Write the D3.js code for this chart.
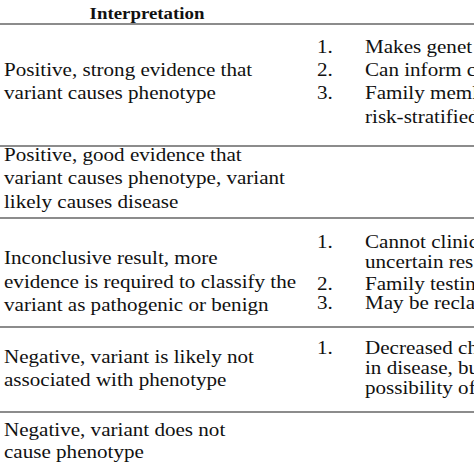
<!DOCTYPE html>
<html><head><meta charset="utf-8">
<script src="https://cdn.jsdelivr.net/npm/d3@7"></script>
<style>body{margin:0;background:#fff}</style></head>
<body><svg id="c" width="474" height="474"></svg>
<script>
const header = "Interpretation";
const interpretations = [
  ["Positive, strong evidence that", "variant causes phenotype"],
  ["Positive, good evidence that", "variant causes phenotype, variant", "likely causes disease"],
  ["Inconclusive result, more", "evidence is required to classify the", "variant as pathogenic or benign"],
  ["Negative, variant is likely not", "associated with phenotype"],
  ["Negative, variant does not", "cause phenotype"]
];
const implications = [
  [["1.", "Makes genet"], ["2.", "Can inform c"], ["3.", "Family meml"], ["", "risk-stratified"]],
  [],
  [["1.", "Cannot clinic"], ["", "uncertain res"], ["2.", "Family testin"], ["3.", "May be recla"]],
  [["1.", "Decreased ch"], ["", "in disease, bu"], ["", "possibility of"]],
  []
];
const leftY = [[70, 93], [155, 178, 202], [258, 282, 305], [357, 380], [430, 452]];
const rightY = [[47, 70, 93, 117], [], [242, 262, 284, 303], [348, 368, 388], []];
const ruleY = [24, 146, 218, 327, 412];

const svg = d3.select("#c");
const font = "'Liberation Serif', serif";
const sx = 1.11;
svg.append("text").attr("transform", `translate(147,19) scale(${sx},1)`).attr("text-anchor", "middle")
  .attr("font-family", font).attr("font-weight", "bold").attr("font-size", 17).attr("fill", "#111").text(header);
svg.selectAll("line.r").data(ruleY).join("line")
  .attr("x1", 0).attr("x2", 474).attr("y1", d => d).attr("y2", d => d)
  .attr("stroke", "#666").attr("stroke-width", 1.6);
interpretations.forEach((lines, i) => {
  svg.append("g").selectAll("text").data(lines).join("text")
    .attr("transform", (d, j) => `translate(4,${leftY[i][j] + 6}) scale(${sx},1)`)
    .attr("font-family", font).attr("font-size", 19).attr("fill", "#111").text(d => d);
  const g = svg.append("g");
  g.selectAll("text.n").data(implications[i]).join("text").attr("class", "n")
    .attr("transform", (d, j) => `translate(317,${rightY[i][j] + 6}) scale(${sx},1)`)
    .attr("font-family", font).attr("font-size", 19).attr("fill", "#111").text(d => d[0]);
  g.selectAll("text.t").data(implications[i]).join("text").attr("class", "t")
    .attr("transform", (d, j) => `translate(365,${rightY[i][j] + 6}) scale(${sx},1)`)
    .attr("font-family", font).attr("font-size", 19).attr("fill", "#111").text(d => d[1]);
});
</script></body></html>
